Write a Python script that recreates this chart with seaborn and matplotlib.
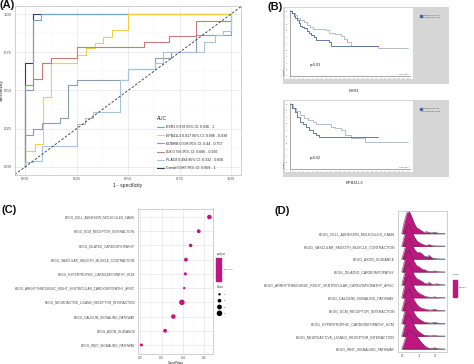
import numpy as np
import pandas as pd
import seaborn as sns
import matplotlib.pyplot as plt

sns.set_theme(style="white")
plt.rcParams["font.family"] = ["Liberation Sans", "DejaVu Sans"]

W, H = 474, 364
MAGENTA = "#c0167f"

# ---------------- (A) ROC curves ----------------
roc_genes = ["ESR1", "EPB41L3", "EDNRB", "ID4", "PLAC8", "Combi"]
roc_labels = ["ESR1 0.978 95% CI: 0.936 - 1",
              "EPB41L3 0.817 95% CI: 0.696 - 0.938",
              "EDNRB 0.598 95% CI: 0.44 - 0.757",
              "ID4 0.796 95% CI: 0.666 - 0.926",
              "PLAC8 0.494 95% CI: 0.332 - 0.656",
              "Combi 0.987 95% CI: 0.959 - 1"]
roc_colors = ["#74a3cc", "#f0d048", "#8d9cae", "#cc7b7b", "#a8c4dc", "#2c3f5e"]

esr1_fpr = [0, 0, 0.04, 0.04, 0.08, 0.08, 1.0]
esr1_tpr = [0, 0.5, 0.5, 0.96, 0.96, 1.0, 1.0]
epb_fpr = [0, 0, 0.05, 0.05, 0.086, 0.086, 0.126, 0.126, 0.25, 0.25, 0.296, 0.296,
           0.34, 0.34, 0.38, 0.38, 0.42, 0.42, 0.50, 0.50, 1.0]
epb_tpr = [0, 0.105, 0.105, 0.148, 0.148, 0.46, 0.46, 0.68, 0.68, 0.73, 0.73, 0.775,
           0.775, 0.81, 0.81, 0.85, 0.85, 0.895, 0.895, 1.0, 1.0]
ednrb_fpr = [0, 0, 0.04, 0.04, 0.084, 0.084, 0.17, 0.17, 0.21, 0.21, 0.25, 0.25,
             0.50, 0.50, 0.63, 0.63, 0.71, 0.71, 0.83, 0.83, 1.0, 1.0]
ednrb_tpr = [0, 0.21, 0.21, 0.245, 0.245, 0.285, 0.285, 0.32, 0.32, 0.535, 0.535, 0.57,
             0.57, 0.64, 0.64, 0.71, 0.71, 0.75, 0.75, 0.86, 0.86, 1.0]
id4_fpr = [0, 0, 0.04, 0.04, 0.084, 0.084, 0.126, 0.126, 0.254, 0.254, 0.58, 0.58,
           0.70, 0.70, 0.83, 0.83, 1.0, 1.0]
id4_tpr = [0, 0.535, 0.535, 0.575, 0.575, 0.68, 0.68, 0.714, 0.714, 0.786, 0.786, 0.82,
           0.82, 0.856, 0.856, 0.956, 0.956, 1.0]
plac8_fpr = [0, 0, 0.04, 0.04, 0.084, 0.084, 0.25, 0.25, 0.29, 0.29, 0.33, 0.33, 0.46, 0.46,
             0.50, 0.50, 0.63, 0.63, 0.67, 0.67, 0.87, 0.87, 0.92, 0.92, 0.96, 0.96, 1.0, 1.0]
plac8_tpr = [0, 0.03, 0.03, 0.04, 0.04, 0.14, 0.14, 0.28, 0.28, 0.32, 0.32, 0.36, 0.36, 0.57,
             0.57, 0.64, 0.64, 0.68, 0.68, 0.75, 0.75, 0.82, 0.82, 0.86, 0.86, 0.89, 0.89, 1.0]
combi_fpr = [0, 0, 0.04, 0.04, 1.0]
combi_tpr = [0, 0.68, 0.68, 1.0, 1.0]

# ---------------- (B) Kaplan-Meier ----------------
km_genes = ["ESR1", "EPB41L3"]
km_pvals = ["p=0.03", "p=0.02"]
km_legend = ["low expression n=63", "high expression n=62"]
esr1_low_t = [0, 0.4, 0.8, 1.1, 1.5, 1.9, 2.2, 2.6, 3.2, 3.7, 4.2, 4.7, 5.2, 5.8, 8.7, 9.0, 19.5]
esr1_low_s = [1.0, 0.97, 0.93, 0.90, 0.86, 0.82, 0.78, 0.76, 0.74, 0.70, 0.67, 0.64, 0.60, 0.56, 0.53, 0.47, 0.47]
esr1_high_t = [0, 0.5, 1.0, 1.6, 2.2, 3.0, 3.8, 4.5, 5.0, 7.9, 8.7, 10.0, 11.2, 11.9, 12.6, 13.4, 17.0, 19.5, 26.0]
esr1_high_s = [1.0, 0.97, 0.94, 0.90, 0.87, 0.83, 0.79, 0.75, 0.72, 0.71, 0.67, 0.65, 0.62, 0.57, 0.52, 0.47, 0.46, 0.44, 0.44]
epb_low_t = [0, 0.5, 1.1, 1.6, 2.2, 2.9, 3.6, 4.3, 5.0, 5.7, 6.5, 19.5]
epb_low_s = [1.0, 0.94, 0.875, 0.80, 0.725, 0.69, 0.65, 0.60, 0.55, 0.52, 0.50, 0.50]
epb_high_t = [0, 0.6, 1.3, 2.2, 3.0, 4.0, 5.0, 5.8, 8.7, 9.0, 10.0, 11.2, 12.2, 13.4, 16.6, 26.0]
epb_high_s = [1.0, 0.95, 0.90, 0.83, 0.79, 0.76, 0.725, 0.70, 0.70, 0.65, 0.63, 0.60, 0.53, 0.48, 0.425, 0.425]
km_low_color = "#4a6795"
km_high_color = "#a9b3c6"

# ---------------- (C) dot plot ----------------
c_terms = ["KEGG_CELL_ADHESION_MOLECULES_CAMS",
           "KEGG_ECM_RECEPTOR_INTERACTION",
           "KEGG_DILATED_CARDIOMYOPATHY",
           "KEGG_VASCULAR_SMOOTH_MUSCLE_CONTRACTION",
           "KEGG_HYPERTROPHIC_CARDIOMYOPATHY_HCM",
           "KEGG_ARRHYTHMOGENIC_RIGHT_VENTRICULAR_CARDIOMYOPATHY_ARVC",
           "KEGG_NEUROACTIVE_LIGAND_RECEPTOR_INTERACTION",
           "KEGG_CALCIUM_SIGNALING_PATHWAY",
           "KEGG_AXON_GUIDANCE",
           "KEGG_WNT_SIGNALING_PATHWAY"]
c_ratio = [0.524, 0.474, 0.436, 0.414, 0.411, 0.406, 0.395, 0.355, 0.316, 0.205]
c_count = [28, 21, 18, 21, 15, 10, 40, 28, 21, 14]

# ---------------- (D) ridgeline ----------------
d_terms = ["KEGG_CELL_ADHESION_MOLECULES_CAMS",
           "KEGG_VASCULAR_SMOOTH_MUSCLE_CONTRACTION",
           "KEGG_AXON_GUIDANCE",
           "KEGG_DILATED_CARDIOMYOPATHY",
           "KEGG_ARRHYTHMOGENIC_RIGHT_VENTRICULAR_CARDIOMYOPATHY_ARVC",
           "KEGG_CALCIUM_SIGNALING_PATHWAY",
           "KEGG_ECM_RECEPTOR_INTERACTION",
           "KEGG_HYPERTROPHIC_CARDIOMYOPATHY_HCM",
           "KEGG_NEUROACTIVE_LIGAND_RECEPTOR_INTERACTION",
           "KEGG_WNT_SIGNALING_PATHWAY"]
d_grid = [0.0, 0.15, 0.3, 0.45, 0.6, 0.75, 0.9, 1.05, 1.2, 1.35, 1.5, 1.65, 1.8, 1.95, 2.1, 2.3, 2.6]
d_heights = [
    [0, 0.9, 1.6, 1.75, 1.3, 0.8, 0.45, 0.35, 0.2, 0.1, 0.15, 0.08, 0.05, 0.12, 0.05, 0.02, 0],
    [0, 0.8, 1.5, 1.7, 1.25, 0.75, 0.45, 0.3, 0.2, 0.12, 0.08, 0.15, 0.05, 0.03, 0.02, 0.01, 0],
    [0, 0.7, 1.4, 1.6, 1.2, 0.8, 0.55, 0.55, 0.45, 0.25, 0.2, 0.3, 0.12, 0.05, 0.03, 0.01, 0],
    [0, 0.8, 1.5, 1.7, 1.25, 0.8, 0.5, 0.4, 0.25, 0.2, 0.1, 0.06, 0.05, 0.1, 0.04, 0.01, 0],
    [0, 0.8, 1.5, 1.65, 1.2, 0.75, 0.5, 0.4, 0.3, 0.15, 0.1, 0.2, 0.06, 0.05, 0.1, 0.02, 0],
    [0, 0.85, 1.55, 1.7, 1.25, 0.8, 0.5, 0.35, 0.25, 0.15, 0.08, 0.06, 0.04, 0.08, 0.04, 0.01, 0],
    [0, 0.8, 1.5, 1.7, 1.3, 0.8, 0.5, 0.3, 0.2, 0.15, 0.1, 0.05, 0.06, 0.12, 0.05, 0.01, 0],
    [0, 0.8, 1.5, 1.7, 1.25, 0.8, 0.5, 0.35, 0.22, 0.12, 0.08, 0.05, 0.04, 0.1, 0.05, 0.01, 0],
    [0, 0.8, 1.5, 1.7, 1.3, 0.85, 0.5, 0.35, 0.2, 0.1, 0.06, 0.04, 0.03, 0.06, 0.03, 0.01, 0],
    [0, 0.6, 1.2, 1.5, 1.4, 1.2, 1.0, 0.75, 0.5, 0.3, 0.15, 0.08, 0.06, 0.12, 0.05, 0.02, 0],
]


def box(l, t, w, h):
    # pixel box (left, top, width, height) -> figure fraction
    return [l / W, 1 - (t + h) / H, w / W, h / H]


def gg_panel(ax, size=3):
    for s in ax.spines.values():
        s.set_color("#bdbdbd")
        s.set_linewidth(0.5)
    ax.tick_params(labelsize=size, length=1.2, width=0.4, pad=0.8,
                   colors="#4d4d4d", which="both")
    ax.tick_params(which="minor", length=0)


fig = plt.figure(figsize=(W / 100, H / 100), dpi=100)

# ---- A
axA = fig.add_axes(box(14.7, 6.4, 226.6, 168.2))
roc_fpr = [esr1_fpr, epb_fpr, ednrb_fpr, id4_fpr, plac8_fpr, combi_fpr]
roc_tpr = [esr1_tpr, epb_tpr, ednrb_tpr, id4_tpr, plac8_tpr, combi_tpr]
roc_df = pd.concat([pd.DataFrame({"fpr": f, "tpr": t, "label": lab})
                    for f, t, lab in zip(roc_fpr, roc_tpr, roc_labels)])
# Combi is drawn first so that ESR1 stays visible on top of it
draw_order = [roc_labels[5]] + roc_labels[:5]
pal = dict(zip(roc_labels, roc_colors))
sns.lineplot(data=roc_df, x="fpr", y="tpr", hue="label", hue_order=draw_order,
             palette=pal, sort=False, estimator=None, lw=0.8, ax=axA)
axA.axline((0, 0), slope=1, ls=(0, (3, 2)), color="#333333", lw=0.6)
axA.set_xlim(-0.05, 1.05)
axA.set_ylim(-0.05, 1.05)
ticks = [0, 0.25, 0.5, 0.75, 1.0]
axA.set_xticks(ticks, ["0.00", "0.25", "0.50", "0.75", "1.00"])
axA.set_yticks(ticks, ["0.00", "0.25", "0.50", "0.75", "1.00"])
axA.set_xticks([0.125, 0.375, 0.625, 0.875], minor=True)
axA.set_yticks([0.125, 0.375, 0.625, 0.875], minor=True)
axA.grid(True, which="major", color="#e6e6e6", lw=0.5)
axA.grid(True, which="minor", color="#f2f2f2", lw=0.3)
axA.set_axisbelow(True)
gg_panel(axA)
axA.set_xlabel("1 - specificity", fontsize=3.6, labelpad=1.5)
axA.set_ylabel("sensitivity", fontsize=3.6)
axA.yaxis.set_label_coords(-(14.7 - 3.5) / 226.6, 0.5)
handles, labels = axA.get_legend_handles_labels()
hmap = dict(zip(labels, handles))
axA.legend([hmap[lab] for lab in roc_labels], roc_labels, title="AUC", fontsize=2.6,
           title_fontsize=3.4, frameon=False, loc="upper left", alignment="left",
           bbox_to_anchor=(154 / W, 1 - 113 / H), bbox_transform=fig.transFigure,
           handlelength=1.8, handletextpad=0.7, labelspacing=1.15)

# ---- B
km_data = [((esr1_low_t, esr1_low_s), (esr1_high_t, esr1_high_s)),
           ((epb_low_t, epb_low_s), (epb_high_t, epb_high_s))]
km_tops = [7, 100]
for gene, pval, (low, high), top in zip(km_genes, km_pvals, km_data, km_tops):
    bg = fig.add_axes(box(283, top, 166, 77))
    bg.set_facecolor("#d6d6d6")
    bg.set_xticks([])
    bg.set_yticks([])
    for s in bg.spines.values():
        s.set_visible(False)
    wh = fig.add_axes(box(284.5, top + 1, 128, 70.5))
    wh.set_facecolor("white")
    wh.set_xticks([])
    wh.set_yticks([])
    for s in wh.spines.values():
        s.set_visible(False)
    axK = fig.add_axes(box(290, top + 3, 120, 66))
    axK.patch.set_alpha(0)
    sns.lineplot(x=high[0], y=high[1], drawstyle="steps-post", color=km_high_color,
                 lw=0.6, estimator=None, sort=False, ax=axK)
    sns.lineplot(x=low[0], y=low[1], drawstyle="steps-post", color=km_low_color,
                 lw=0.6, estimator=None, sort=False, ax=axK)
    axK.set_xlim(0, 26.5)
    axK.set_ylim(0, 1.02)
    axK.set_xticks(range(0, 27))
    axK.set_xticklabels([str(v) for v in range(0, 27)], fontsize=1.1)
    axK.set_yticks(np.arange(0, 1.01, 0.1))
    axK.set_yticklabels([f"{v:.1f}" for v in np.arange(0, 1.01, 0.1)], fontsize=1.1)
    axK.tick_params(length=0.8, width=0.3, pad=0.5, colors="#555555")
    for side in ["top", "right"]:
        axK.spines[side].set_visible(False)
    for side in ["left", "bottom"]:
        axK.spines[side].set_color("#666666")
        axK.spines[side].set_linewidth(0.4)
    axK.set_xlabel("")
    axK.set_ylabel("")
    axK.text(4.4, 0.15, pval, fontsize=2.6, color="#222222")
    axK.text(26.3, 0.02, "Time (years)", fontsize=1.3, ha="right", color="#444444")
    axK.text(-1.3, 0.02, "Probability", fontsize=1.3, rotation=90, va="bottom", color="#444444")
    fig.text(354 / W, 1 - (top + 83.5) / H, gene, fontsize=3, ha="center", va="center",
             color="#333333")
    fig.text(423 / W, 1 - (top + 8.5) / H, km_legend[0], fontsize=1.3, va="center", color="#333333")
    fig.text(423 / W, 1 - (top + 11) / H, km_legend[1], fontsize=1.3, va="center", color="#333333")
    fig.patches.append(plt.Rectangle((419.5 / W, 1 - (top + 9.5) / H), 2 / W, 2 / H,
                                     transform=fig.transFigure, color=km_low_color))

# ---- C
axC = fig.add_axes(box(138, 208.5, 75, 145))
dfC = pd.DataFrame({"term": c_terms, "ratio": c_ratio, "count": c_count})
dfC["pos"] = np.arange(len(c_terms))[::-1]
sns.scatterplot(data=dfC, x="ratio", y="pos", size="count", sizes=(3, 16),
                size_norm=(10, 40), color=MAGENTA, edgecolor="none", legend=False, ax=axC)
axC.set_xlim(0.189, 0.541)
axC.set_ylim(-0.6, len(c_terms) - 0.4)
axC.set_xticks([0.2, 0.3, 0.4, 0.5], ["0.2", "0.3", "0.4", "0.5"])
axC.set_xticks([0.25, 0.35, 0.45], minor=True)
axC.set_yticks(dfC["pos"], dfC["term"])
axC.grid(True, which="major", color="#e6e6e6", lw=0.5)
axC.grid(True, which="minor", axis="x", color="#f2f2f2", lw=0.3)
axC.set_axisbelow(True)
gg_panel(axC, size=2.3)
axC.tick_params(axis="x", labelsize=2.4)
axC.set_xlabel("GeneRatio", fontsize=2.4, labelpad=0.5)
axC.set_ylabel("")

# ---- D
axD = fig.add_axes(box(397.7, 210.7, 49, 141))
n = len(d_terms)
for i, (term, h) in enumerate(zip(d_terms, d_heights)):
    pos = n - i
    top = pos + np.array(h)
    axD.fill_between(d_grid, pos, top, color=MAGENTA, lw=0, zorder=2 * i + 1)
    axD.plot(d_grid, top, color="#3a3a3a", lw=0.35, zorder=2 * i + 2)
    axD.plot([d_grid[0], d_grid[-1]], [pos, pos], color="#3a3a3a", lw=0.35, zorder=2 * i + 2)
axD.set_xlim(-0.24, 2.69)
axD.set_ylim(0.81, 11.78)
axD.set_xticks([0, 1, 2], ["0", "1", "2"])
axD.set_yticks(range(n, 0, -1), d_terms)
gg_panel(axD, size=2.5)
axD.tick_params(axis="x", labelsize=3)

# ---- overlay: panel tags and legend glyphs
ov = fig.add_axes([0, 0, 1, 1])
ov.set_xlim(0, W)
ov.set_ylim(H, 0)
ov.axis("off")
tag = dict(fontsize=8, fontweight="bold", va="top", ha="left", color="#111111")
ov.text(0, 0.5, "(A)", **tag)
ov.text(268, 1.5, "(B)", **tag)
ov.text(1.5, 205, "(C)", **tag)
ov.text(275, 206, "(D)", **tag)

# C legends
ov.text(216.5, 256, "p.adjust", fontsize=1.8, va="bottom", color="#333333")
ov.add_patch(plt.Rectangle((216.5, 258), 5, 23, color=MAGENTA))
ov.text(223.5, 269.5, "0.00120000", fontsize=1.4, va="center", color="#333333")
ov.text(216.5, 289, "Count", fontsize=1.8, va="bottom", color="#333333")
for y, lab, s in zip([294.3, 300.7, 307, 313.3], ["10", "20", "30", "40"], [3, 7.3, 11.7, 16]):
    ov.scatter([219.5], [y], s=s, color="black", edgecolor="none")
    ov.text(224, y, lab, fontsize=1.5, va="center", color="#333333")

# D legend
ov.text(453, 275, "p.adjust", fontsize=1.4, va="bottom", color="#333333")
ov.add_patch(plt.Rectangle((453, 279.5), 4, 17.5, color=MAGENTA))
ov.text(458.5, 288, "0.00120000", fontsize=1.2, va="center", color="#333333")

fig.savefig("out.png", dpi=100)
